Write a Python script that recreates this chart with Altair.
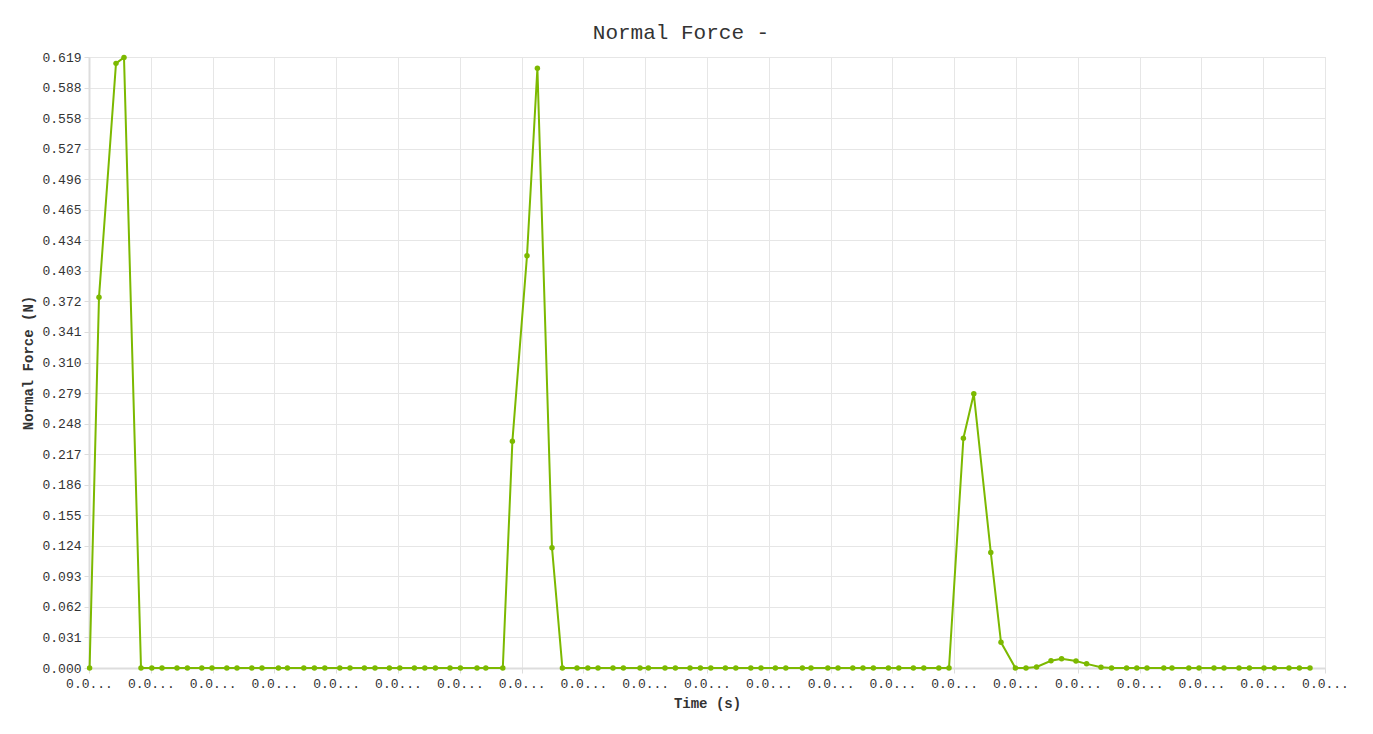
import altair as alt
import pandas as pd

# time (s) values and normal force (N) values
time_s = [
    0.01003, 0.0105, 0.01135, 0.01175, 0.0126, 0.01314, 0.01365, 0.0144, 0.01492,
    0.01564, 0.01615, 0.01689, 0.0174, 0.01814, 0.01865, 0.01947, 0.01992, 0.02074,
    0.02127, 0.02179, 0.02254, 0.02305, 0.02377, 0.0243, 0.02502, 0.02554, 0.02627,
    0.02679, 0.02732, 0.02805, 0.02857, 0.0294, 0.02984, 0.03069,
    0.03117, 0.0319, 0.03242, 0.03315, 0.03367,
    0.0344, 0.03494, 0.03545, 0.0362, 0.03672, 0.03755, 0.03797, 0.0388, 0.03932,
    0.04005, 0.04057, 0.04109, 0.04182, 0.04234, 0.04309, 0.0436, 0.04432, 0.04484,
    0.04567, 0.0461, 0.04694, 0.04745, 0.04819, 0.0487, 0.04922, 0.04997, 0.05049,
    0.05122, 0.05174, 0.05249, 0.053,
    0.05372, 0.05424, 0.05509, 0.0556, 0.05632, 0.05685, 0.05738, 0.0581, 0.05863,
    0.05935, 0.05988, 0.0606, 0.06113, 0.06188, 0.06239, 0.0629, 0.06374, 0.06415,
    0.06499, 0.0655, 0.06625, 0.06675, 0.0675, 0.06802, 0.06875, 0.06927, 0.07,
    0.07052, 0.07105,
]
force_n = [
    0.0, 0.376, 0.613, 0.619, 0.0, 0.0, 0.0, 0.0, 0.0,
    0.0, 0.0, 0.0, 0.0, 0.0, 0.0, 0.0, 0.0, 0.0,
    0.0, 0.0, 0.0, 0.0, 0.0, 0.0, 0.0, 0.0, 0.0,
    0.0, 0.0, 0.0, 0.0, 0.0, 0.0, 0.0,
    0.230, 0.418, 0.608, 0.122, 0.0,
    0.0, 0.0, 0.0, 0.0, 0.0, 0.0, 0.0, 0.0, 0.0,
    0.0, 0.0, 0.0, 0.0, 0.0, 0.0, 0.0, 0.0, 0.0,
    0.0, 0.0, 0.0, 0.0, 0.0, 0.0, 0.0, 0.0, 0.0,
    0.0, 0.0, 0.0, 0.0,
    0.233, 0.278, 0.117, 0.026, 0.0, 0.0, 0.001, 0.0073, 0.0094,
    0.0071, 0.0042, 0.0008, 0.0, 0.0, 0.0, 0.0, 0.0, 0.0,
    0.0, 0.0, 0.0, 0.0, 0.0, 0.0, 0.0, 0.0, 0.0,
    0.0, 0.0,
]

x_domain = [0.01, 0.0718]
x_ticks = [0.01 + k * 0.00309 for k in range(21)]
y_max = 0.61946
y_ticks = [k * 0.030973 for k in range(21)]

df = pd.DataFrame({"t": time_s, "f": force_n})

FONT = "Liberation Mono"
LINE = "#7cb900"

common_axis = dict(
    grid=True,
    gridColor="#e6e6e6",
    domainColor="#dddddd",
    domainWidth=2,
    tickColor="#dddddd",
    tickSize=5,
    tickCount=40,
    labelFont=FONT,
    labelFontSize=13,
    labelColor="#333333",
    labelFlush=False,
    labelOverlap=False,
    titleFont=FONT,
    titleFontSize=14,
    titleFontWeight="bold",
    titleColor="#333333",
    titlePadding=6,
)

x_enc = alt.X(
    "t:Q",
    title="Time (s)",
    scale=alt.Scale(domain=x_domain, nice=False, zero=False),
    axis=alt.Axis(
        values=x_ticks,
        labelExpr="slice(format(datum.value, '.4f'), 0, 3) + '...'",
        labelPadding=4,
        **common_axis,
    ),
)
y_enc = alt.Y(
    "f:Q",
    title="Normal Force (N)",
    scale=alt.Scale(domain=[0, y_max], nice=False),
    axis=alt.Axis(
        values=y_ticks,
        format=".3f",
        labelPadding=3,
        **common_axis,
    ),
)

line = alt.Chart(df).mark_line(color=LINE, strokeWidth=2).encode(x=x_enc, y=y_enc)
pts = alt.Chart(df).mark_circle(color=LINE, size=30, opacity=1).encode(x="t:Q", y="f:Q")

chart = (
    alt.layer(line, pts)
    .properties(
        width=1236,
        height=611,
        title=alt.TitleParams(
            "Normal Force -",
            font=FONT,
            fontSize=21,
            fontWeight="normal",
            color="#333333",
            anchor="middle",
            dx=-26,
            offset=8,
        ),
        autosize=alt.AutoSizeParams(type="none"),
        padding={"left": 81, "top": 49, "right": 40, "bottom": 58},
    )
    .configure_view(stroke=None)
    .configure(background="white")
)

chart.save("out.html", embed_options={"renderer": "svg", "actions": False})
